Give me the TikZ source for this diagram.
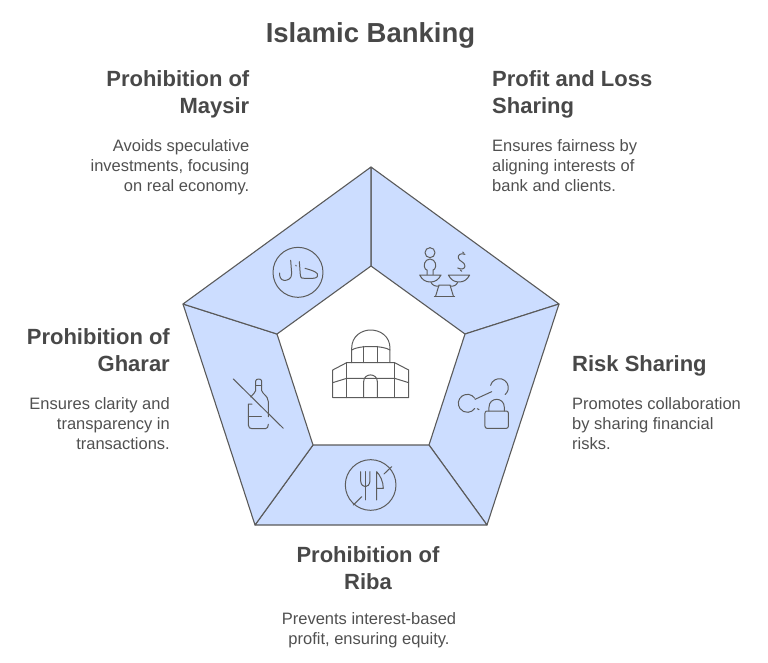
\documentclass[tikz,border=0pt]{standalone}
\usepackage{fontspec}
\setmainfont{Liberation Sans}
\definecolor{txt}{HTML}{484848}
\definecolor{btxt}{HTML}{505050}
\definecolor{seg}{HTML}{CCDDFF}
\definecolor{edge}{HTML}{5A5A5A}
\definecolor{ico}{HTML}{5C5C5C}
\newcommand{\hfnt}{\fontsize{22}{27}\selectfont\bfseries}
\newcommand{\bfnt}{\fontsize{16.5}{20}\selectfont}
\tikzset{
  panel/.style={fill=seg,draw=edge,line width=1.1pt,line join=round},
  icon/.style={draw=ico,line width=1pt,line cap=round,line join=round,fill=none},
  head/.style={text=txt,inner sep=0pt,font=\hfnt},
  body/.style={text=btxt,inner sep=0pt,font=\bfnt},
}
\begin{document}
\begin{tikzpicture}[x=1pt,y=-1pt]
\useasboundingbox (0,0) rectangle (768,662);
\coordinate (O1) at (371,167); \coordinate (O2) at (559,304); \coordinate (O3) at (487,525);
\coordinate (O4) at (255,525); \coordinate (O5) at (183,304);
\coordinate (I1) at (371,266); \coordinate (I2) at (465,334); \coordinate (I3) at (429,445);
\coordinate (I4) at (313,445); \coordinate (I5) at (277,334);
\draw[panel] (O1)--(O2)--(I2)--(I1)--cycle;
\draw[panel] (O2)--(O3)--(I3)--(I2)--cycle;
\draw[panel] (O3)--(O4)--(I4)--(I3)--cycle;
\draw[panel] (O4)--(O5)--(I5)--(I4)--cycle;
\draw[panel] (O5)--(O1)--(I1)--(I5)--cycle;

% texts
\node[text=txt,inner sep=0pt,font=\fontsize{27.5}{33}\selectfont\bfseries,anchor=base] (title) at (370.5,42) {Islamic Banking};
\node[head,anchor=north east,align=right] (h1) at (249.5,70.6) {Prohibition of\\Maysir};
\node[body,anchor=north east,align=right] (b1) at (249.5,139.5) {Avoids speculative\\investments, focusing\\on real economy.};
\node[head,anchor=north west,align=left] (h2) at (492,70.6) {Profit and Loss\\Sharing};
\node[body,anchor=north west,align=left] (b2) at (492,139.5) {Ensures fairness by\\aligning interests of\\bank and clients.};
\node[head,anchor=north east,align=right] (h3) at (170,328.6) {Prohibition of\\Gharar};
\node[body,anchor=north east,align=right] (b3) at (170,397.5) {Ensures clarity and\\transparency in\\transactions.};
\node[head,anchor=north west,align=left] (h4) at (572,355.6) {Risk Sharing};
\node[body,anchor=north west,align=left] (b4) at (572,397.5) {Promotes collaboration\\by sharing financial\\risks.};
\node[head,anchor=north,align=center] (h5) at (368,546.6) {Prohibition of\\Riba};
\node[body,anchor=north,align=center] (b5) at (369,612.5) {Prevents interest-based\\profit, ensuring equity.};

% dome
\begin{scope}[shift={(310,320)},x=.3333pt,y=-.3333pt,icon]
\draw (68,233)--(296,233)--(296,150)--(254,128)--(110,128)--(68,150)--cycle;
\draw (110,128)--(110,233) (254,128)--(254,233);
\draw (68,188)--(110,175)--(254,175)--(296,188);
\draw (161,233)--(161,185) .. controls (161,158) and (202,158) .. (202,185)--(202,233);
\draw (125,128)--(125,85) .. controls (125,48) and (155,30) .. (182,30) .. controls (210,30) and (240,48) .. (240,85)--(240,128);
\draw (125,90) .. controls (145,76) and (220,76) .. (240,90);
\draw (161,79)--(161,128) (202,79)--(202,128);
\end{scope}

% halal
\begin{scope}[shift={(270,245)},x=.3333pt,y=-.3333pt,icon]
\draw (84,82) circle[radius=75];
\draw (62,46) -- (65,85) .. controls (66,103) and (50,107) .. (42,106) .. controls (32,105) and (28,95) .. (29,84);
\draw (77,61)--(79,63);
\draw (88,50)--(91,90) .. controls (92,100) and (98,101) .. (104,100) -- (128,100) .. controls (142,100) and (146,92) .. (142,86) .. controls (136,78) and (118,74) .. (105,70);
\end{scope}

% scale
\begin{scope}[shift={(415,240)},x=.3333pt,y=-.3333pt,icon]
\draw (45,38) circle[radius=15];
\draw (36,104)--(36,90) -- (31,87) .. controls (24,78) and (28,58) .. (45,57) .. controls (62,58) and (66,78) .. (59,87) -- (54,90)--(54,104);
\draw (14,105)--(78,105) (14,105) .. controls (22,120) and (32,126) .. (46,126) .. controls (60,126) and (70,120) .. (78,105);
\draw (100,105)--(164,105) (100,105) .. controls (108,120) and (118,126) .. (132,126) .. controls (146,126) and (156,120) .. (164,105);
\draw (48,127) .. controls (52,136) and (62,140) .. (72,138);
\draw (128,127) .. controls (124,136) and (116,140) .. (106,138);
\draw (62,168)--(72,135)--(105,135)--(115,168);
\draw (58,168)--(119,168);
\draw (150,43) .. controls (136,38) and (128,45) .. (130,54) .. controls (132,64) and (150,66) .. (150,78) .. controls (150,86) and (140,90) .. (128,84);
\draw (143,36)--(147,40) (136,90)--(140,94);
\end{scope}

% share/lock
\begin{scope}[shift={(420,340)},x=.3333pt,y=-.3333pt,icon]
\draw (142,190) ++(-35:27) arc[start angle=-35,end angle=-325,radius=27];
\draw (172,206)--(177,209);
\draw (238,143) ++(-165:27) arc[start angle=-165,end angle=50,radius=27];
\draw (165,178)--(215,155);
\draw[rounded corners=2pt] (195,213) rectangle (265,265);
\draw (207,213)--(207,202) .. controls (207,170) and (253,170) .. (253,202)--(253,213);
\end{scope}

% fork and knife
\begin{scope}[shift={(220,370)},x=.3333pt,y=-.3333pt,icon]
\draw (452,345) circle[radius=76];
\draw (400,405)--(425,380) (492,312)--(515,290);
\draw (422,305)--(422,333) .. controls (423,345) and (430,350) .. (436,350) .. controls (442,350) and (449,345) .. (450,333)--(450,305);
\draw (436,305)--(436,390);
\draw (470,390)--(470,305) .. controls (480,315) and (490,335) .. (490,355)--(470,355);
\end{scope}

% bottle
\begin{scope}[shift={(230,375)},x=.3333pt,y=-.3333pt,icon]
\draw (10,12)--(160,160);
\draw (62,66)--(72,55) -- (77,47) -- (77,18) .. controls (77,10) and (95,10) .. (95,18) -- (95,47) -- (100,55) .. controls (110,65) and (115,70) .. (115,80)--(115,125);
\draw (77,32)--(95,32);
\draw (66,87)--(55,87)--(55,150) .. controls (55,158) and (60,161) .. (66,161)--(106,161) .. controls (112,161) and (115,156) .. (115,148);
\draw (55,125)--(94,125);
\end{scope}
\end{tikzpicture}
\end{document}
